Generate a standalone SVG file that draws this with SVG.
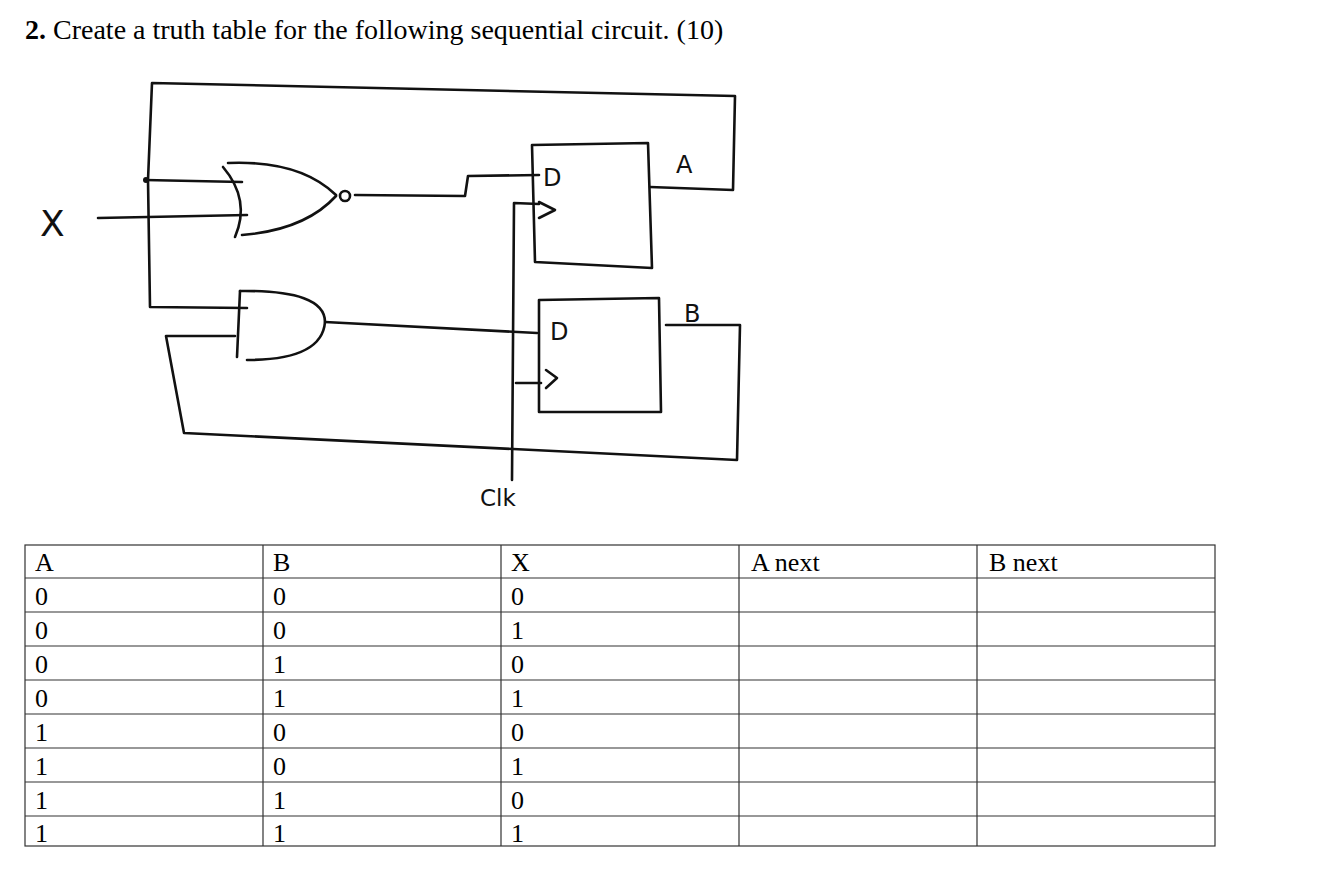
<svg xmlns="http://www.w3.org/2000/svg" width="1330" height="882" viewBox="0 0 1330 882">
<style>
.w{fill:none;stroke:#111;stroke-width:2.6;stroke-linecap:round;stroke-linejoin:round}
.t{font-family:"Liberation Serif",serif;font-size:26px;fill:#000}
.h{font-family:"DejaVu Sans",sans-serif;font-size:24px;fill:#111}
.g{fill:none;stroke:#333;stroke-width:1.2}
</style>
<rect width="1330" height="882" fill="#fff"/>
<text class="t" x="25" y="39" style="font-size:28px"><tspan font-weight="bold">2.</tspan> Create a truth table for the following sequential circuit. (10)</text>
<g id="connectors">
<path class="w" d="M650,187 L733,190 L735,96 L152,83 L148,180 L150,307 L247,308"/>
<path class="w" d="M145,180 L242,182"/>
<path class="w" d="M98,218 L247,215"/>
<path class="w" d="M355,195 L465,196 L468,176 L539,175"/>
<path class="w" d="M325,322 L537,333"/>
<path class="w" d="M235,336 L166,336 L184,433 L737,460 L740,325 L666,325"/>
<path class="w" d="M512,480 L514,203 L539,204"/>
<path class="w" d="M516,383 L541,383"/>
<circle cx="146" cy="180" r="3" fill="#111"/>
</g>
<g id="nor">
<path class="w" d="M223,167 Q251,200 235,237"/>
<path class="w" d="M228,163 Q300,160 336,195"/>
<path class="w" d="M242,235 Q305,230 336,196"/>
<circle class="w" cx="345" cy="196" r="5"/>
</g>
<g id="and">
<path class="w" d="M240,291 L237,357"/>
<path class="w" d="M240,291 Q325,290 325,322 Q322,360 247,360"/>
</g>
<g id="ffA">
<path class="w" d="M532,145 L648,143 L652,268 L535,262 Z"/>
<path class="w" d="M539,202 L555,210 L539,218"/>
<text class="h" x="543" y="186">D</text>
<text class="h" x="676" y="173">A</text>
</g>
<g id="ffB">
<path class="w" d="M539,300 L659,298 L661,412 L539,412 Z"/>
<path class="w" d="M546,370 L557,378 L546,388"/>
<text class="h" x="550" y="340">D</text>
<text class="h" x="684" y="322">B</text>
</g>
<text class="h" x="480" y="506" style="font-size:23px">Clk</text>
<text class="h" x="40" y="236" style="font-size:36px">X</text>
<g id="table">
<rect class="g" x="25" y="545" width="1190" height="301"/>
<path class="g" d="M263,545V846M501,545V846M739,545V846M977,545V846M25,578H1215M25,612H1215M25,646H1215M25,680H1215M25,714H1215M25,748H1215M25,782H1215M25,816H1215"/>
<g class="t">
<text x="35" y="571">A</text><text x="273" y="571">B</text><text x="511" y="571">X</text><text x="751" y="571">A next</text><text x="989" y="571">B next</text>
<text x="35" y="605">0</text><text x="273" y="605">0</text><text x="511" y="605">0</text>
<text x="35" y="639">0</text><text x="273" y="639">0</text><text x="511" y="639">1</text>
<text x="35" y="673">0</text><text x="273" y="673">1</text><text x="511" y="673">0</text>
<text x="35" y="707">0</text><text x="273" y="707">1</text><text x="511" y="707">1</text>
<text x="35" y="741">1</text><text x="273" y="741">0</text><text x="511" y="741">0</text>
<text x="35" y="775">1</text><text x="273" y="775">0</text><text x="511" y="775">1</text>
<text x="35" y="809">1</text><text x="273" y="809">1</text><text x="511" y="809">0</text>
<text x="35" y="842">1</text><text x="273" y="842">1</text><text x="511" y="842">1</text>
</g>
</g>
</svg>
